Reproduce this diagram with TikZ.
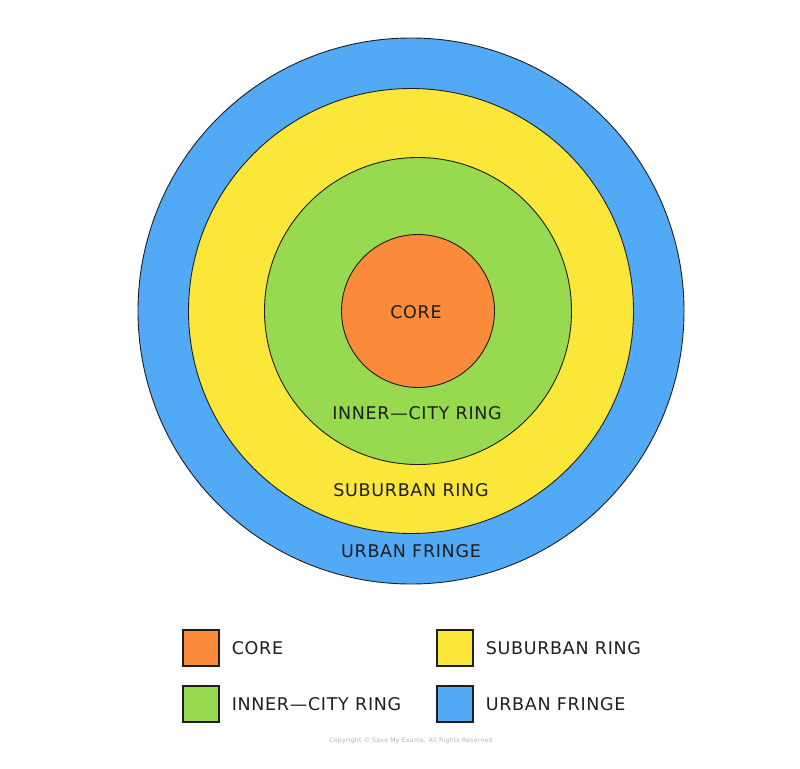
\documentclass[tikz,border=0pt]{standalone}
\usepackage{fontspec}
\setmainfont{DejaVu Sans}[LetterSpace=4]
\usetikzlibrary{positioning}
\definecolor{corecol}{HTML}{F98B3B}
\definecolor{innercol}{HTML}{97DA4F}
\definecolor{suburbcol}{HTML}{FBE73A}
\definecolor{fringecol}{HTML}{52A9F6}
\definecolor{inkcol}{HTML}{1E1E1E}
\tikzset{
    zone/.style={circle, draw=inkcol, line width=0.9pt, inner sep=0pt},
    keybox/.style={draw=inkcol, line width=1.2pt, minimum size=36pt, inner sep=0pt},
    zonetext/.style={text=inkcol, font=\fontsize{17.5}{20}\selectfont, inner sep=0pt},
}
\begin{document}
\begin{tikzpicture}[x=1pt, y=-1pt]
    \useasboundingbox (0,0) rectangle (800,768);
    % rings, outside in
    \node[zone, fill=fringecol, minimum size=546pt] (fringe) at (411,311) {};
    \node[zone, fill=suburbcol, minimum size=445pt] (suburb) at (411,311) {};
    \node[zone, fill=innercol, minimum size=307pt] (inner) at (418,311) {};
    \node[zone, fill=corecol, minimum size=153pt] (core) at (418,311) {};
    \node[zonetext] (corelbl) at (416,312) {CORE};
    \node[zonetext] (innerlbl) at (417,413) {INNER---CITY RING};
    \node[zonetext] (suburblbl) at (411,490) {SUBURBAN RING};
    \node[zonetext] (fringelbl) at (411,551) {URBAN FRINGE};
    % key
    \node[keybox, fill=corecol] (kcore) at (201,648) {};
    \node[keybox, fill=innercol] (kinner) at (201,704) {};
    \node[keybox, fill=suburbcol] (ksuburb) at (455,648) {};
    \node[keybox, fill=fringecol] (kfringe) at (455,704) {};
    \node[zonetext, right=12pt of kcore] {CORE};
    \node[zonetext, right=12pt of kinner] {INNER---CITY RING};
    \node[zonetext, right=12pt of ksuburb] {SUBURBAN RING};
    \node[zonetext, right=12pt of kfringe] {URBAN FRINGE};
    \node[text=gray!60, font=\fontsize{6.2}{7}\selectfont, inner sep=0pt] (copy) at (411,741) {Copyright © Save My Exams. All Rights Reserved};
\end{tikzpicture}
\end{document}
